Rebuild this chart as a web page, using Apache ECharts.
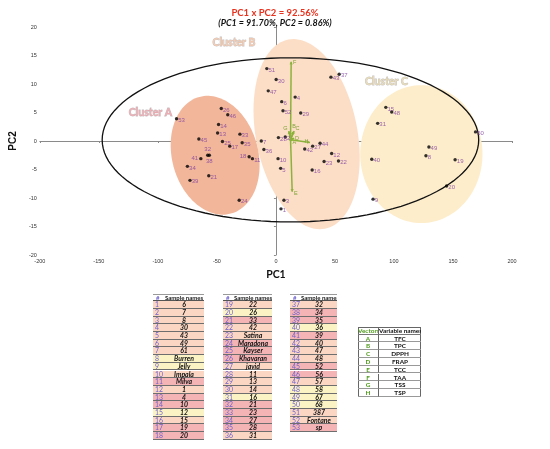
<!DOCTYPE html>
<html><head><meta charset="utf-8">
<script src="https://cdn.jsdelivr.net/npm/echarts@6/dist/echarts.min.js"></script>
<style>
html,body{margin:0;padding:0;background:#fff;}
#chart{position:absolute;left:0;top:0;width:550px;height:449px;}
.cell{position:absolute;box-sizing:border-box;overflow:hidden;white-space:nowrap;font-family:Lato,'Liberation Sans',sans-serif;font-size:6.9px;}
</style></head>
<body>
<div id="chart"></div>
<div id="tables"></div>
<script>
// ---------- data ----------
const sampleIds = [1,2,3,4,5,6,7,8,9,10,11,12,13,14,15,16,17,18,19,20,21,22,23,24,25,26,27,28,29,30,31,32,33,34,35,36,37,38,39,40,41,42,43,44,45,46,47,48,49,50,51,52,53];
const pc1 = [4.3,7.9,6.8,16.3,4.0,4.9,-12.4,127.1,82.3,1.8,-19.9,47.2,-49.4,-48.6,93.1,30.7,-39.1,-22.7,151.8,144.6,-56.9,53.0,40.8,-31.1,-45.3,-46.3,31.1,2.1,21.0,0.2,86.2,-57.8,-30.5,-75.0,-28.6,-10.2,53.6,-56.4,-72.8,81.2,-63.6,24.4,46.6,37.4,-65.3,-40.8,-6.5,98.1,129.6,169.1,-7.7,6.0,-84.2];
const pc2 = [-11.9,0.7,-10.4,7.7,-4.8,6.9,0.0,-2.6,-10.2,-3.1,-3.1,-2.2,1.4,2.9,5.9,-5.1,-0.9,-2.75,-3.3,-7.9,-6.1,-3.5,-3.6,-10.4,-0.1,5.7,-0.9,0.6,4.9,10.8,3.1,-2.5,1.2,-4.45,-0.3,-1.5,11.7,-2.5,-6.9,-3.2,-3.1,-1.4,11.2,-0.4,0.35,4.6,8.8,5.1,-1.05,1.6,12.7,5.3,3.9];
const sampleNames = ['6','7','8','30','43','49','61','Burren','Jelly','Impala','Milva','1','4','10','12','15','19','20','22','26','33','42','Satina','Maradona','Kayser','Khavaran','javid','11','13','14','16','21','23','27','28','31','32','34','35','36','39','40','47','48','52','56','57','58','67','68','387','Fontane','sp'];
const sampleCluster = ['B','B','B','B','B','B','B','C','C','B','A','B','A','A','C','B','A','A','B','C','A','B','B','A','A','A','B','B','B','B','C','A','A','A','A','B','B','A','A','C','A','B','B','B','A','A','B','C','C','C','B','B','A'];

const clusterNames = ['Cluster A','Cluster B','Cluster C'];
const clusterLabelX = [-106.4,-35.5,93.7];
const clusterLabelY = [4.9,17.3,10.4];

const ellipseNames = ['Cluster C','Cluster B','Cluster A','Confidence'];
const ellipseCX = [123.2,26.0,-51.5,12.3];
const ellipseCY = [-2.3,1.2,-2.5,0.2];
const ellipseRX = [51.8,43.0,36.5,159.5];
const ellipseRY = [12.1,16.9,10.6,14.4];
const ellipseAngle = [0,-11,-15,0];

const vectorNames = ['A','B','C','D','E','F','G','H'];
const variableNames = ['TFC','TPC','DPPH','FRAP','TCC','TAA','TSS','TSP'];
const vectorX = [13.8,14.6,15.4,15.4,13.8,12.9,10.9,28.8];
const vectorY = [0.1,1.6,1.75,0.5,-8.9,13.9,1.75,-0.26];
const vectorOrigin = [12.4,0.2];

const xTicks = {min:-200,max:200,step:50};
const yTicks = {min:-20,max:20,step:5};

// ---------- styles ----------
const ellipseFill = {'Cluster A':'#F2B69B','Cluster B':'#FCDEC7','Cluster C':'#FDEDCB','Confidence':null};
const clusterText = {'Cluster A':'#F1A3AB','Cluster B':'#F7C7A8','Cluster C':'#E9DBAE'};
const rowColor = {A:'#F4B3B4',B:'#FBD6C3',C:'#FCF3C4'};
const labelPos = {41:'left',18:'left',32:'top',38:'bottom'};
const vecLabelOff = {A:[2,2.5],B:[1,-5],C:[3.5,-3],D:[3,0],E:[3.5,1.5],F:[3.5,1],G:[-3.5,-3],H:[-3.5,-0.5]};

const chart = echarts.init(document.getElementById('chart'));
const ptData = sampleIds.map((id,i)=>({value:[pc1[i],pc2[i],id],
  label:{position: labelPos[id]||'right', offset: labelPos[id]?[0,0]:[-1,1.5]}}));

const option = {
  animation:false,
  title:{text:'PC1 x PC2 = 92.56%', subtext:'(PC1 = 91.70%, PC2 = 0.86%)', left:'center', top:3, itemGap:1,
    textStyle:{color:'#E8321E',fontSize:9.5,fontWeight:'bold',fontFamily:'Lato'},
    subtextStyle:{color:'#111',fontSize:9,fontWeight:'bold',fontStyle:'italic',fontFamily:'Lato'}},
  grid:{left:33,right:38,top:27,bottom:194},
  xAxis:{type:'value',min:xTicks.min,max:xTicks.max,interval:xTicks.step,name:'PC1',nameLocation:'middle',nameGap:12,
    nameTextStyle:{fontFamily:'Lato',fontWeight:'bold',fontSize:10.5,color:'#111'},
    axisLine:{lineStyle:{color:'#8a8a8a',width:1}},axisTick:{length:2,lineStyle:{color:'#8a8a8a'}},
    axisLabel:{fontSize:5.5,color:'#333',margin:3,fontFamily:'Liberation Sans'},splitLine:{show:false}},
  yAxis:{type:'value',min:yTicks.min,max:yTicks.max,interval:yTicks.step,name:'PC2',nameLocation:'middle',nameGap:18,
    nameTextStyle:{fontFamily:'Liberation Sans',fontWeight:'bold',fontSize:10,color:'#111'},
    axisLine:{show:true,lineStyle:{color:'#8a8a8a',width:1}},axisTick:{show:true,length:2,lineStyle:{color:'#8a8a8a'}},
    axisLabel:{fontSize:5.5,color:'#333',margin:3,fontFamily:'Liberation Sans'},splitLine:{show:false}},
  series:[
    {type:'custom',z:1,silent:true,clip:false,
      data:ellipseNames.map((n,i)=>[ellipseCX[i],ellipseCY[i],ellipseRX[i],ellipseRY[i],ellipseAngle[i],i]),
      renderItem:function(params,api){
        const c=api.coord([api.value(0),api.value(1)]);
        const s=api.size([api.value(2),api.value(3)]);
        const phi=api.value(4)*Math.PI/180;
        const name=ellipseNames[api.value(5)];
        const pts=[];
        for(let k=0;k<120;k++){const t=k/120*2*Math.PI;const x=s[0]*Math.cos(t), y=s[1]*Math.sin(t);
          pts.push([c[0]+x*Math.cos(phi)-y*Math.sin(phi), c[1]+x*Math.sin(phi)+y*Math.cos(phi)]);}
        const fill=ellipseFill[name];
        return {type:'polygon',shape:{points:pts},style: fill?{fill:fill,stroke:null}:{fill:null,stroke:'#111',lineWidth:1.3}};
      }},
    {type:'custom',z:3,silent:true,clip:false,
      data:vectorNames.map((n,i)=>[vectorX[i],vectorY[i],i]),
      renderItem:function(params,api){
        const o=api.coord(vectorOrigin);
        const e=api.coord([api.value(0),api.value(1)]);
        const n=vectorNames[api.value(2)];
        const ang=Math.atan2(e[1]-o[1],e[0]-o[0]);
        const h=2.6,w=1.6;
        const p1=[e[0]-h*Math.cos(ang)+w*Math.sin(ang), e[1]-h*Math.sin(ang)-w*Math.cos(ang)];
        const p2=[e[0]-h*Math.cos(ang)-w*Math.sin(ang), e[1]-h*Math.sin(ang)+w*Math.cos(ang)];
        const off=vecLabelOff[n];
        return {type:'group',children:[
          {type:'line',shape:{x1:o[0],y1:o[1],x2:e[0],y2:e[1]},style:{stroke:'#8DB23C',lineWidth:1.5}},
          {type:'polygon',shape:{points:[e,p1,p2]},style:{fill:'#8DB23C'}},
          {type:'text',x:e[0]+off[0],y:e[1]+off[1],style:{text:n,fill:'#7FA437',fontSize:5.5,fontFamily:'Liberation Sans',align:'center',verticalAlign:'middle'}}
        ]};
      }},
    {type:'scatter',z:4,symbol:'circle',symbolSize:3.4,itemStyle:{color:'#000'},data:ptData,
      label:{show:true,formatter:p=>p.value[2],fontSize:6,color:'#7D3C9E',distance:1,fontFamily:'Liberation Sans'}},
    {type:'scatter',z:5,symbolSize:0,silent:true,
      data:clusterNames.map((n,i)=>({value:[clusterLabelX[i],clusterLabelY[i]],name:n,
        label:{color:clusterText[n]}})),
      label:{show:true,position:'inside',formatter:p=>p.name,fontSize:10.5,fontFamily:'Lato',fontWeight:'bold',
        textBorderColor:'rgba(120,110,110,0.55)',textBorderWidth:0.8}}
  ]
};
chart.setOption(option);

// ---------- tables ----------
const host=document.getElementById('tables');
function cell(l,t,w,h,txt,css){const d=document.createElement('div');d.className='cell';
  d.style.cssText+=`left:${l}px;top:${t}px;width:${w}px;height:${h}px;line-height:${h}px;`+(css||'');d.textContent=txt;host.appendChild(d);return d;}
function sampleTable(left,top,w1,w2,from,to){
  const hh=7.2, rh=7.7;
  cell(left,top,w1+w2,hh,'', 'border-top:1px solid #9a9a9a;border-bottom:1px solid #555;');
  cell(left,top,w1,hh,'#','color:#6B5FD0;padding-left:3px;font-weight:bold;font-size:6px;');
  cell(left+w1,top,w2,hh,'Sample names','text-align:center;font-weight:bold;color:#222;font-size:6px;');
  for(let i=from;i<=to;i++){
    const y=top+hh+(i-from)*rh;
    cell(left,y,w1+w2,rh,'',`background:${rowColor[sampleCluster[i-1]]};border-bottom:0.8px solid #6e6e6e;`);
    cell(left,y,w1,rh,String(sampleIds[i-1]),'color:#6B5FD0;padding-left:2px;');
    cell(left+w1,y,w2,rh,sampleNames[i-1],'text-align:center;font-weight:bold;font-style:italic;color:#111;');
  }
}
sampleTable(153,294,11,40,1,18);
sampleTable(223,294,11,38,19,36);
sampleTable(290,294,11,36,37,53);

(function(){
  const left=358,top=327,w1=21,w2=42,hh=7.5,rh=7.8;
  cell(left,top,w1+w2,hh+rh*vectorNames.length,'','border:0.8px solid #666;');
  cell(left,top,w1,hh,'Vectors','text-align:center;font-weight:bold;color:#4E9A1A;border-right:0.8px solid #666;border-bottom:0.8px solid #777;font-size:6.4px;');
  cell(left+w1,top,w2,hh,'Variable names','text-align:center;font-weight:bold;color:#111;border-bottom:0.8px solid #777;font-size:6.4px;');
  vectorNames.forEach((n,i)=>{
    const y=top+hh+i*rh;
    cell(left,y,w1,rh,n,'text-align:center;font-weight:bold;color:#4E9A1A;border-right:0.8px solid #666;border-bottom:0.6px solid #999;font-size:6.4px;');
    cell(left+w1,y,w2,rh,variableNames[i],'text-align:center;font-weight:bold;color:#111;border-bottom:0.6px solid #999;font-size:6.4px;');
  });
})();
</script>
</body></html>
